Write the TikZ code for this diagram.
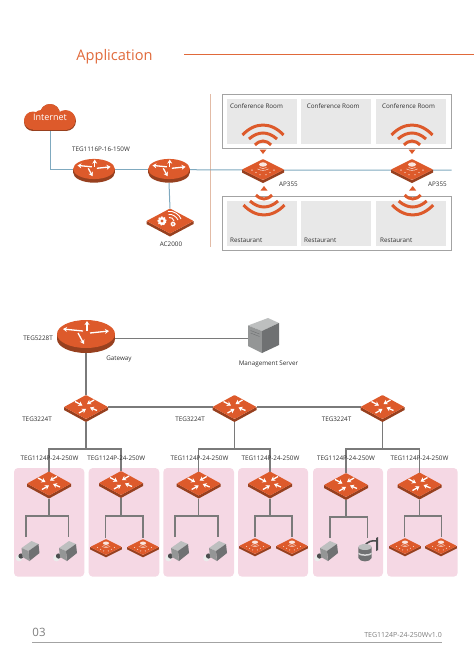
\documentclass[tikz,border=0pt]{standalone}
\usepackage{fontspec}
\setmainfont{Open Sans}
\usetikzlibrary{arrows.meta,backgrounds}
\definecolor{ink}{HTML}{2E2E2E}
\definecolor{muted}{HTML}{7D7D7D}
\definecolor{accent}{HTML}{E0693A}
\definecolor{swtop}{HTML}{DD5A2B}
\definecolor{swside}{HTML}{97401F}
\definecolor{wire}{HTML}{7FA9BF}
\definecolor{link}{HTML}{7A7A7A}
\definecolor{frame}{HTML}{A3A3A3}
\definecolor{soft}{HTML}{E8E8E8}
\definecolor{pink}{HTML}{F5D8E4}
\definecolor{divider}{HTML}{E2BBA6}
\definecolor{gr1}{HTML}{BDBFBF}
\definecolor{gr2}{HTML}{949696}
\definecolor{gr3}{HTML}{6F7172}
\definecolor{gr4}{HTML}{4C4D4E}
\tikzset{
  lbl/.style={font=\fontsize{6.3}{7}\selectfont,text=ink,inner sep=0pt},
  lblg/.style={lbl,text=muted,font=\fontsize{7}{8}\selectfont},
  wa/.style={-{Stealth[length=4pt,width=5pt]},draw=white,line width=1.3pt},
  blue/.style={draw=wire,line width=1pt},
  lnk/.style={draw=link,line width=1.2pt},
  cell/.style={fill=soft},
  room/.style={draw=frame,line width=1pt},
  panel/.style={fill=pink,rounded corners=4pt},
  arcw/.style={draw=swtop,line width=3pt},
  rsw/.pic={
    \fill[swside] (-29,0) rectangle (29,5);
    \fill[swside] (0,5) circle[x radius=29pt,y radius=14pt];
    \fill[swtop] (0,0) circle[x radius=29pt,y radius=14pt];
    \draw[wa] (-3,-3)--(-23,-5); \draw[wa] (1,-3)--(1,-13);
    \draw[wa] (4,-1)--(23,-3); \draw[wa] (-8,-1)--(-2,10);
    \coordinate (-w) at (-29,1); \coordinate (-e) at (29,1);
    \coordinate (-top) at (0,-14); \coordinate (-bot) at (0,19);
  },
  dsw/.pic={
    \fill[swside] (-22,0)--(0,12)--(22,0)--(22,3)--(0,15)--(-22,3)--cycle;
    \fill[swtop,rounded corners=.8pt] (-22,0)--(0,-12)--(22,0)--(0,12)--cycle;
    \draw[wa] (-11,-5.5)--(-3.5,-1.5); \draw[wa] (8,-7)--(1,-3);
    \draw[wa] (-7,6)--(0,2); \draw[wa] (11,3.5)--(4,.5);
    \coordinate (-w) at (-22,0); \coordinate (-e) at (22,0);
    \coordinate (-top) at (0,-12); \coordinate (-bot) at (0,15);
  },
  apb/.pic={
    \fill[swside] (-21,0)--(0,10.5)--(21,0)--(21,3)--(0,13.5)--(-21,3)--cycle;
    \fill[swtop,rounded corners=.8pt] (-21,0)--(0,-10.5)--(21,0)--(0,10.5)--cycle;
    \fill[white!85!swtop] (0,-5) circle[x radius=4pt,y radius=2.2pt];
    \draw[white!85!swtop,line width=.45pt] (-3.5,-2) .. controls (-1,-.6) and (1,-.6) .. (3.5,-2);
    \draw[white!85!swtop,line width=.45pt] (-5.5,-.6) .. controls (-2,1.4) and (2,1.4) .. (5.5,-.6);
    \foreach \dx/\dy in {-11/.6,-7/3,-3/5.2,3/5.2,7/3,11/.6} \fill[white!85!swtop] (\dx,\dy) circle (.7pt);
    \coordinate (-c) at (0,.5); \coordinate (-top) at (0,-10.5); \coordinate (-bot) at (0,13);
  },
  acb/.pic={
    \fill[swside] (-23.5,0)--(0,12.5)--(23.5,0)--(23.5,3)--(0,15.5)--(-23.5,3)--cycle;
    \fill[swtop,rounded corners=.8pt] (-23.5,0)--(0,-12.5)--(23.5,0)--(0,12.5)--cycle;
    \draw[white,line width=1.3pt,dash pattern=on 1.4pt off 1.4pt] (-8,0) circle (4pt);
    \fill[white] (-8,0) circle (4pt); \fill[swtop] (-8,0) circle (1.6pt);
    \draw[white,line width=.9pt,dash pattern=on .9pt off .9pt] (3,3) circle (2.2pt);
    \fill[white] (3,3) circle (2.2pt); \fill[swtop] (3,3) circle (.9pt);
    \draw[white,line width=.9pt] (-1,-3.5) .. controls (1,-4) and (3.5,-2.5) .. (4,0);
    \draw[white,line width=.9pt] (-1.5,-6.5) .. controls (2,-7.5) and (7,-4) .. (8,-1);
    \draw[white,line width=.9pt] (-2,-9.5) .. controls (3,-11) and (10,-6) .. (11,-2);
    \coordinate (-top) at (0,-12.5);
  },
  wifi/.pic={
    \draw[arcw] (-20.5,-19) .. controls (-8,-32.3) and (8,-32.3) .. (20.5,-19);
    \draw[arcw] (-14,-15) .. controls (-5,-23) and (5,-23) .. (14,-15);
    \draw[arcw] (-8,-9) .. controls (-3,-14.3) and (3,-14.3) .. (8,-9);
    \fill[swtop] (-3.5,-4.5)--(3.5,-4.5)--(0,0)--cycle;
  },
  cam/.pic={
    \fill[white!70!gr1] (-9.5,7) circle (3.4pt);
    \fill[gr4] (-7.5,5) circle (2.6pt);
    \fill[gr1] (-7,-3)--(3,-10)--(10,-7)--(0,0)--cycle;
    \fill[gr3] (0,0)--(10,-7)--(11,2)--(1,10)--cycle;
    \fill[gr2] (-7,-3)--(0,0)--(1,10)--(-6,6)--cycle;
  },
  dome/.pic={
    \draw[gr4,line width=1.6pt] (-3,-6) .. controls (0,-9) and (3,-11) .. (9,-10);
    \fill[gr4] (8,-13)--(10,-14)--(10,-1)--(8,0)--cycle;
    \fill[gr3] (-9.7,-4)--(3.7,-4)--(3.7,7) .. controls (2,11.5) and (-8,11.5) .. (-9.7,7)--cycle;
    \fill[gr1!60!white] (-9.7,1.5) .. controls (-8,4) and (2,4) .. (3.7,1.5)--(3.7,3) .. controls (2,5.5) and (-8,5.5) .. (-9.7,3)--cycle;
    \fill[gr1] (-3,-4) circle[x radius=6.7pt,y radius=3pt];
  },
  srv/.pic={
    \fill[gr1] (-15.5,-10)--(4.5,-17.5)--(15.5,-12.5)--(-1.5,-4.5)--cycle;
    \fill[gr2] (-15.5,-10)--(-1.5,-4.5)--(-1.5,17.5)--(-15.5,10.5)--cycle;
    \fill[gr3] (-1.5,-4.5)--(15.5,-12.5)--(15.5,9.5)--(-1.5,17.5)--cycle;
    \draw[gr3,line width=.4pt] (-13,-5)--(-4,-1.5) (-13,-2.5)--(-4,1);
    \coordinate (-w) at (-15.5,3.2);
  },
  cld/.pic={
    \fill[swside] (-17,4) circle (9pt) (16,3) circle (10pt) (0,-4) circle (10pt);
    \fill[swside] (-17,2) rectangle (16,13);
    \fill[swtop] (-17,2.5) circle (9pt) (15.5,2) circle (10pt) (0,-4) circle (10pt) (-9,-1) circle (7pt);
    \fill[swtop] (-17,2) rectangle (16,11.5);
    \coordinate (-bot) at (0,13);
  },
}
\begin{document}
\begin{tikzpicture}[x=1pt,y=-1pt]
  \useasboundingbox (0,0) rectangle (474,670);
  % -- title --
  \node[inner sep=0pt,text=accent,font=\fontsize{14.6}{16}\selectfont] (title) at (114.5,57) {Application};
  \coordinate (ruleL) at (184,54.5); \coordinate (ruleR) at (474,54.5);
  \draw[accent,line width=1pt] (ruleL)--(ruleR);
  % -- rooms --
  \begin{scope}[on background layer]
    \draw[room] (222,94.5) rectangle (451.5,148.5);
    \draw[room] (222,196) rectangle (451.5,250.5);
    \fill[cell] (226.7,99) rectangle (296.7,144.3);
    \fill[cell] (301.3,99) rectangle (371.3,144.3);
    \fill[cell] (376,99) rectangle (446,144.3);
    \fill[cell] (226.7,201) rectangle (296.7,246.3);
    \fill[cell] (301.3,201) rectangle (371.3,246.3);
    \fill[cell] (376,201) rectangle (446,246.3);
    \draw[divider,line width=.8pt] (210.5,94)--(210.5,247);
    \fill[panel] (14,468) rectangle (84.3,576.7);
    \fill[panel] (88.7,468) rectangle (159.3,576.7);
    \fill[panel] (163.3,468) rectangle (234,576.7);
    \fill[panel] (238,468) rectangle (308,576.7);
    \fill[panel] (313,468) rectangle (383,576.7);
    \fill[panel] (387,468) rectangle (457.7,576.7);
  \end{scope}
  \node[lbl,anchor=west] (r1) at (230,106.3) {Conference Room};
  \node[lbl,anchor=west] (r2) at (306.7,106.3) {Conference Room};
  \node[lbl,anchor=west] (r3) at (382,106.3) {Conference Room};
  \node[lbl,anchor=west] (r4) at (230,240.7) {Restaurant};
  \node[lbl,anchor=west] (r5) at (304,240.7) {Restaurant};
  \node[lbl,anchor=west] (r6) at (380,240.7) {Restaurant};
  % -- wlan part --
  \pic (inet) at (50,118) {cld};
  \node[inner sep=0pt,text=white,font=\fontsize{9}{10}\selectfont] (inettxt) at (50,117.5) {Internet};
  \pic[scale=.72] (sw1) at (94,169) {rsw};
  \pic[scale=.72] (sw2) at (169,169) {rsw};
  \pic (ac) at (170,221) {acb};
  \pic (ap1) at (263,169.5) {apb};
  \pic (ap2) at (412,169.5) {apb};
  \pic (w1) at (263,154) {wifi};
  \pic (w2) at (412,154) {wifi};
  \pic[yscale=-1] (w3) at (264,186) {wifi};
  \pic[yscale=-1] (w4) at (412.7,186) {wifi};
  \coordinate (wireEnd) at (451.5,170);
  \node[lbl] (l1) at (101,149) {TEG1116P-16-150W};
  \node[lbl] (l2) at (171,244) {AC2000};
  \node[lbl] (l3) at (288.5,184) {AP355};
  \node[lbl] (l4) at (437.5,184) {AP355};
  \begin{scope}[on background layer]
    \draw[blue] (inet-bot) |- (sw1-w);
    \draw[blue] (sw1-e)--(sw2-w);
    \draw[blue] (sw2-e)--(ap1-c)--(ap2-c)--(wireEnd);
    \draw[blue] (sw2-bot)--(ac-top);
  \end{scope}
  % -- core --
  \pic (gw) at (86,334) {rsw};
  \pic (mgmt) at (263.5,335.5) {srv};
  \coordinate (gwr) at (115,338.7);
  \node[lbl] (gwl) at (38,338) {TEG5228T};
  \node[lbl] (gwn) at (119,358.5) {Gateway};
  \node[lbl] (msl) at (268.5,364) {Management Server};
  \pic (c1) at (86,407) {dsw};
  \pic (c2) at (234.5,407) {dsw};
  \pic (c3) at (382.5,407) {dsw};
  \node[lbl] (c1l) at (37,419) {TEG3224T};
  \node[lbl] (c2l) at (190,419) {TEG3224T};
  \node[lbl] (c3l) at (336.5,419) {TEG3224T};
  % -- access --
  \pic (a1) at (49,483.5) {dsw};
  \pic (a2) at (121,483) {dsw};
  \pic (a3) at (198.7,483.5) {dsw};
  \pic (a4) at (270,483.5) {dsw};
  \pic (a5) at (346,485) {dsw};
  \pic (a6) at (419.5,484.5) {dsw};
  \node[lbl] (a1l) at (49.5,458) {TEG1124P-24-250W};
  \node[lbl] (a2l) at (116.3,458) {TEG1124P-24-250W};
  \node[lbl] (a3l) at (199.5,458) {TEG1124P-24-250W};
  \node[lbl] (a4l) at (270.5,458) {TEG1124P-24-250W};
  \node[lbl] (a5l) at (346,458) {TEG1124P-24-250W};
  \node[lbl] (a6l) at (419.5,458) {TEG1124P-24-250W};
  \coordinate (j1) at (86,449); \coordinate (j2) at (234.5,449); \coordinate (j3) at (382.5,449);
  \coordinate (k1) at (49,516); \coordinate (k2) at (121,516); \coordinate (k3) at (198.7,516);
  \coordinate (k4) at (270,516); \coordinate (k5) at (346,517); \coordinate (k6) at (419.5,516);
  % -- end devices --
  \pic (d1) at (28.5,551) {cam};
  \pic (d2) at (66,551) {cam};
  \pic[scale=.76] (d3) at (106,547) {apb};
  \pic[scale=.76] (d4) at (143,547) {apb};
  \pic (d5) at (178,551) {cam};
  \pic (d6) at (216,551) {cam};
  \pic[scale=.76] (d7) at (255,546) {apb};
  \pic[scale=.76] (d8) at (292,546) {apb};
  \pic (d9) at (327,551) {cam};
  \pic (d10) at (368,551) {dome};
  \pic[scale=.76] (d11) at (405,546) {apb};
  \pic[scale=.76] (d12) at (441,546) {apb};
  \coordinate (e1) at (26,537); \coordinate (e2) at (68.7,537);
  \coordinate (e3) at (105.7,538); \coordinate (e4) at (143,538);
  \coordinate (e5) at (175,537); \coordinate (e6) at (218,537);
  \coordinate (e7) at (255,537); \coordinate (e8) at (292,537);
  \coordinate (e9) at (330,538); \coordinate (e10) at (367.7,538);
  \coordinate (e11) at (404.5,537); \coordinate (e12) at (441.5,537);
  \begin{scope}[on background layer]
    \draw[lnk] (gwr)--(mgmt-w);
    \draw[lnk] (gw-bot)--(c1-top);
    \draw[lnk] (c1-e)--(c2-w); \draw[lnk] (c2-e)--(c3-w);
    \draw[lnk] (c1-bot)--(j1); \draw[lnk] (c2-bot)--(j2); \draw[lnk] (c3-bot)--(j3);
    \draw[lnk] (a1-top) |- (j1) -| (a2-top);
    \draw[lnk] (a3-top) |- (j2) -| (a4-top);
    \draw[lnk] (a5-top) |- (j3) -| (a6-top);
    \draw[lnk] (a1-bot)--(k1); \draw[lnk] (a2-bot)--(k2); \draw[lnk] (a3-bot)--(k3);
    \draw[lnk] (a4-bot)--(k4); \draw[lnk] (a5-bot)--(k5); \draw[lnk] (a6-bot)--(k6);
    \draw[lnk] (e1) |- (k1) -| (e2);
    \draw[lnk] (e3) |- (k2) -| (e4);
    \draw[lnk] (e5) |- (k3) -| (e6);
    \draw[lnk] (e7) |- (k4) -| (e8);
    \draw[lnk] (e9) |- (k5) -| (e10);
    \draw[lnk] (e11) |- (k6) -| (e12);
  \end{scope}
  % -- footer --
  \node[inner sep=0pt,text=muted,font=\fontsize{11.5}{13}\selectfont] (pageno) at (39,632) {03};
  \node[lblg,anchor=east] (model) at (442,634.7) {TEG1124P-24-250Wv1.0};
  \coordinate (footL) at (32,642.3); \coordinate (footR) at (442,642.3);
  \draw[frame,line width=.8pt] (footL)--(footR);
\end{tikzpicture}
\end{document}
